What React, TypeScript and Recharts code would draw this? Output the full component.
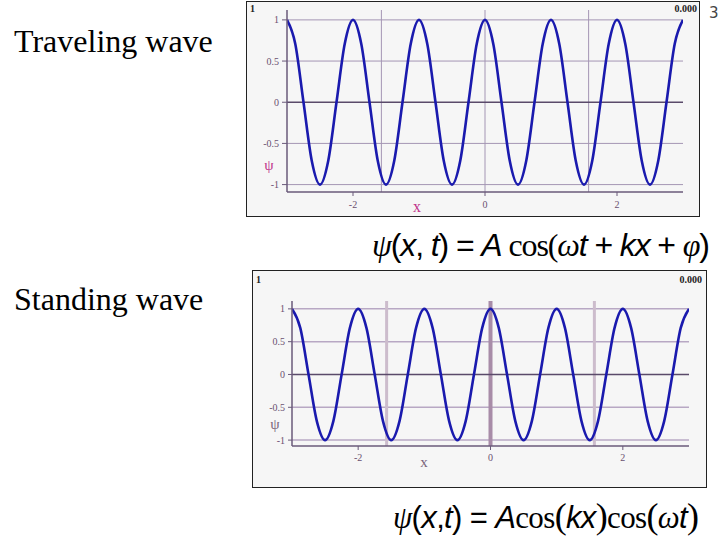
import React from 'react';
import { LineChart, Line, XAxis, YAxis, ReferenceLine } from 'recharts';

// x positions (sampled every 1/8 of a unit)
const xPositions = [
  -3, -2.875, -2.75, -2.625, -2.5, -2.375, -2.25, -2.125,
  -2, -1.875, -1.75, -1.625, -1.5, -1.375, -1.25, -1.125,
  -1, -0.875, -0.75, -0.625, -0.5, -0.375, -0.25, -0.125,
  0, 0.125, 0.25, 0.375, 0.5, 0.625, 0.75, 0.875,
  1, 1.125, 1.25, 1.375, 1.5, 1.625, 1.75, 1.875,
  2, 2.125, 2.25, 2.375, 2.5, 2.625, 2.75, 2.875,
  3,
];

// psi values
const travelingPsi = [
  1, 0.71, 0, -0.71, -1, -0.71, 0, 0.71,
  1, 0.71, 0, -0.71, -1, -0.71, 0, 0.71,
  1, 0.71, 0, -0.71, -1, -0.71, 0, 0.71,
  1, 0.71, 0, -0.71, -1, -0.71, 0, 0.71,
  1, 0.71, 0, -0.71, -1, -0.71, 0, 0.71,
  1, 0.71, 0, -0.71, -1, -0.71, 0, 0.71,
  1,
];

// psi values
const standingPsi = [
  1, 0.71, 0, -0.71, -1, -0.71, 0, 0.71,
  1, 0.71, 0, -0.71, -1, -0.71, 0, 0.71,
  1, 0.71, 0, -0.71, -1, -0.71, 0, 0.71,
  1, 0.71, 0, -0.71, -1, -0.71, 0, 0.71,
  1, 0.71, 0, -0.71, -1, -0.71, 0, 0.71,
  1, 0.71, 0, -0.71, -1, -0.71, 0, 0.71,
  1,
];

const xTicks = [-2, 0, 2];
const yTicks = [-1, -0.5, 0, 0.5, 1];
const xDomain = [-3, 3];
const yDomain = [-1.09, 1.12];
const verticalGrid = [-1.57, 0, 1.57];
const horizontalGrid = [-1, -0.5, 0.5, 1];
const frameCounter = '1';
const timeReadout = '0.000';
const pageNumber = '3';

const travelingData = xPositions.map((x, i) => ({ x, psi: travelingPsi[i] }));
const standingData = xPositions.map((x, i) => ({ x, psi: standingPsi[i] }));

const tickFont = { fill: '#6a5070', fontSize: 10, fontFamily: 'Liberation Serif' };
const axisStroke = '#6a5a7a';
const waveColor = '#1a1aae';

function TravelingChart() {
  return (
    <div
      style={{
        position: 'absolute', left: 246, top: 1, width: 454, height: 216,
        boxSizing: 'border-box', border: '1px solid #222', background: '#f6f6f6',
      }}
    >
      <LineChart width={452} height={214} data={travelingData} margin={{ top: 8, right: 16, bottom: 0, left: 0 }}>
        <XAxis
          type="number" dataKey="x" domain={xDomain} ticks={xTicks} height={24}
          tickSize={4} tickMargin={5} allowDataOverflow
          axisLine={{ stroke: axisStroke, strokeWidth: 1.5 }} tickLine={{ stroke: axisStroke }} tick={tickFont}
        />
        <YAxis
          type="number" domain={yDomain} ticks={yTicks} width={40}
          tickSize={5} tickMargin={3} allowDataOverflow
          axisLine={{ stroke: axisStroke, strokeWidth: 1.5 }} tickLine={{ stroke: axisStroke }} tick={tickFont}
        />
        {verticalGrid.map((v) => (
          <ReferenceLine key={'v' + v} x={v} stroke="#a496b4" strokeWidth={1} />
        ))}
        {horizontalGrid.map((v) => (
          <ReferenceLine key={'h' + v} y={v} stroke="#a496b4" strokeWidth={1} />
        ))}
        <ReferenceLine y={0} stroke="#5a4a6a" strokeWidth={1.5} />
        <Line type="monotone" dataKey="psi" stroke={waveColor} strokeWidth={2.6} dot={false} isAnimationActive={false} />
      </LineChart>
    </div>
  );
}

function StandingChart() {
  return (
    <div
      style={{
        position: 'absolute', left: 252, top: 270, width: 455, height: 218,
        boxSizing: 'border-box', border: '1px solid #222', background: '#f6f6f6',
      }}
    >
      <LineChart width={453} height={216} data={standingData} margin={{ top: 30, right: 17, bottom: 17, left: 0 }}>
        <XAxis
          type="number" dataKey="x" domain={xDomain} ticks={xTicks} height={24}
          tickSize={4} tickMargin={4} allowDataOverflow
          axisLine={{ stroke: axisStroke, strokeWidth: 1.5 }} tickLine={{ stroke: axisStroke }} tick={tickFont}
        />
        <YAxis
          type="number" domain={yDomain} ticks={yTicks} width={39}
          tickSize={4} tickMargin={3} allowDataOverflow
          axisLine={{ stroke: axisStroke, strokeWidth: 1.5 }} tickLine={{ stroke: axisStroke }} tick={tickFont}
        />
        {horizontalGrid.map((v) => (
          <ReferenceLine key={'h' + v} y={v} stroke="#b8a8c4" strokeWidth={1.5} />
        ))}
        {verticalGrid.map((v) => (
          <ReferenceLine
            key={'v' + v} x={v}
            stroke={v === 0 ? '#a88ca8' : '#ccbccc'}
            strokeWidth={v === 0 ? 4 : 3}
          />
        ))}
        <ReferenceLine y={0} stroke="#5a4a6a" strokeWidth={1.5} />
        <Line type="monotone" dataKey="psi" stroke={waveColor} strokeWidth={2.6} dot={false} isAnimationActive={false} />
      </LineChart>
    </div>
  );
}

const serif = 'Liberation Serif';
const sans = 'Liberation Sans';

function Overlay() {
  return (
    <svg
      width={720} height={540}
      style={{ position: 'absolute', left: 0, top: 0, pointerEvents: 'none' }}
    >
      <text x={14} y={52} fontSize={32} fontFamily={serif} fill="#000">Traveling wave</text>
      <text x={14} y={310} fontSize={32} fontFamily={serif} fill="#000">Standing wave</text>

      <text x={709} y={18} fontSize={15} fontFamily="DejaVu Sans" fill="#444">{pageNumber}</text>

      {/* top chart corner readouts and axis titles */}
      <text x={250} y={12} fontSize={10} fontWeight="bold" fontFamily={serif} fill="#222">{frameCounter}</text>
      <text x={697} y={12} fontSize={10} fontWeight="bold" fontFamily={serif} fill="#222" textAnchor="end">{timeReadout}</text>
      <text x={269} y={170} fontSize={15} fontFamily={serif} fill="#c0308a" textAnchor="middle">ψ</text>
      <text x={417} y={212} fontSize={16} fontFamily={serif} fill="#c0308a" textAnchor="middle">x</text>

      {/* bottom chart corner readouts and axis titles */}
      <text x={256} y={283} fontSize={10} fontWeight="bold" fontFamily={serif} fill="#222">{frameCounter}</text>
      <text x={702} y={283} fontSize={10} fontWeight="bold" fontFamily={serif} fill="#222" textAnchor="end">{timeReadout}</text>
      <text x={275} y={429} fontSize={15} fontFamily={serif} fill="#7a647a" textAnchor="middle">ψ</text>
      <text x={424} y={467} fontSize={15} fontFamily={serif} fill="#7a647a" textAnchor="middle">x</text>

      {/* traveling wave formula */}
      <text x={372} y={256} fontSize={32} fill="#000" textLength={338} lengthAdjust="spacing">
        <tspan fontFamily={serif} fontStyle="italic">ψ</tspan>
        <tspan fontFamily={sans}>(</tspan>
        <tspan fontFamily={sans} fontStyle="italic">x</tspan>
        <tspan fontFamily={sans}>, </tspan>
        <tspan fontFamily={sans} fontStyle="italic">t</tspan>
        <tspan fontFamily={sans}>{') = '}</tspan>
        <tspan fontFamily={sans} fontStyle="italic">A</tspan>
        <tspan fontFamily={serif}>{' cos('}</tspan>
        <tspan fontFamily={serif} fontStyle="italic">ω</tspan>
        <tspan fontFamily={sans} fontStyle="italic">t</tspan>
        <tspan fontFamily={sans}>{' + '}</tspan>
        <tspan fontFamily={sans} fontStyle="italic">kx</tspan>
        <tspan fontFamily={sans}>{' + '}</tspan>
        <tspan fontFamily={serif} fontStyle="italic">φ</tspan>
        <tspan fontFamily={sans}>)</tspan>
      </text>

      {/* standing wave formula */}
      <text x={393} y={528} fontSize={31} fill="#000" textLength={306} lengthAdjust="spacing">
        <tspan fontFamily={serif} fontStyle="italic">ψ</tspan>
        <tspan fontFamily={sans}>(</tspan>
        <tspan fontFamily={sans} fontStyle="italic">x</tspan>
        <tspan fontFamily={sans}>,</tspan>
        <tspan fontFamily={sans} fontStyle="italic">t</tspan>
        <tspan fontFamily={sans}>{') = '}</tspan>
        <tspan fontFamily={sans} fontStyle="italic">A</tspan>
        <tspan fontFamily={serif}>cos</tspan>
        <tspan fontFamily={serif} fontSize={36}>(</tspan>
        <tspan fontFamily={sans} fontStyle="italic">kx</tspan>
        <tspan fontFamily={serif} fontSize={36}>)</tspan>
        <tspan fontFamily={serif}>cos</tspan>
        <tspan fontFamily={serif} fontSize={36}>(</tspan>
        <tspan fontFamily={serif} fontStyle="italic">ω</tspan>
        <tspan fontFamily={sans} fontStyle="italic">t</tspan>
        <tspan fontFamily={serif} fontSize={36}>)</tspan>
      </text>
    </svg>
  );
}

export default function App() {
  return (
    <div style={{ position: 'absolute', left: 0, top: 0, width: 720, height: 540, background: '#fff', overflow: 'hidden' }}>
      <TravelingChart />
      <StandingChart />
      <Overlay />
    </div>
  );
}
